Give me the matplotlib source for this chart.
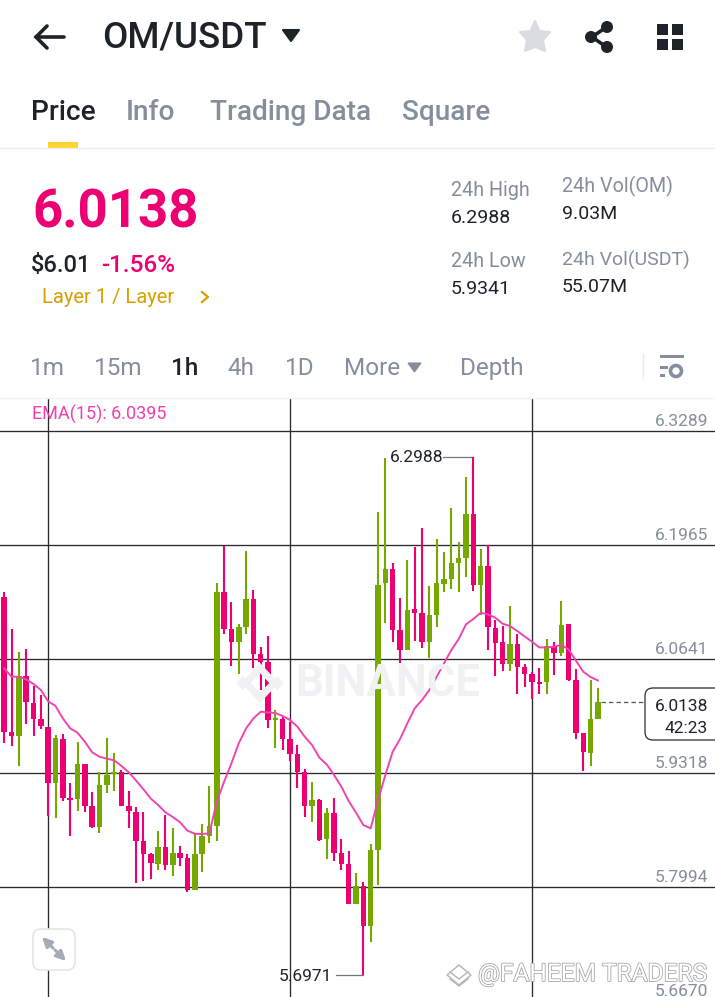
import matplotlib
matplotlib.use("Agg")
import matplotlib.pyplot as plt
import matplotlib.patheffects as pe
from matplotlib.patches import Rectangle, Polygon, FancyBboxPatch, Circle

opens = [6.1365,5.9790,5.9751,6.0444,6.0127,5.9945,5.9848,5.9198,5.9712,5.9027,
         5.9020,5.9422,5.8931,5.8687,5.9178,5.9302,5.9329,5.8938,5.8869,5.8528,
         5.8377,5.8261,5.8462,5.8253,5.8385,5.8334,5.7955,5.8381,5.8586,5.8706,
         6.1415,6.0989,6.0842,6.1016,6.1338,6.0699,6.0602,5.9929,5.9948,5.9716,
         5.9534,5.9329,5.8938,5.9000,5.8547,5.8849,5.8392,5.8261,5.7796,5.8005,
         5.7544,5.8427,6.1520,6.1686,6.0978,6.0745,6.1218,6.1171,6.0838,6.1152,
         6.1516,6.1570,6.1760,6.1814,6.2321,6.1500,6.1721,6.1005,6.0838,6.0587,
         6.0819,6.0552,6.0471,6.0370,6.0374,6.0796,6.0714,6.1044,6.0397,5.9778,
         5.9553,5.9940]
closes = [5.9798,5.9751,6.0444,6.0138,5.9945,5.9863,5.9198,5.9720,5.9027,5.9004,
          5.9422,5.8938,5.8687,5.9178,5.9294,5.9329,5.8938,5.8876,5.8532,5.8377,
          5.8269,5.8462,5.8253,5.8385,5.8334,5.7959,5.8377,5.8586,5.8702,6.1416,
          6.0989,6.0842,6.1009,6.1338,6.0699,6.0602,5.9933,5.9952,5.9712,5.9538,
          5.9333,5.8938,5.9000,5.8543,5.8849,5.8392,5.8261,5.7796,5.8005,5.7544,
          5.8427,6.1500,6.1686,6.0978,6.0745,6.1214,6.1179,6.0838,6.1152,6.1520,
          6.1566,6.1756,6.1818,6.2329,6.1500,6.1721,6.1013,6.0831,6.0587,6.0819,
          6.0552,6.0471,6.0374,6.0347,6.0796,6.0711,6.1036,6.0397,5.9786,5.9557,
          5.9940,6.0138]
highs = [6.1423,6.0990,6.0727,6.0754,6.0328,6.0223,5.9848,5.9759,5.9767,5.9205,
         5.9681,5.9422,5.9101,5.9325,5.9720,5.9546,5.9352,5.9109,5.8919,5.8865,
         5.8393,5.8640,5.8826,5.8675,5.8470,5.8373,5.8617,5.8722,5.9167,6.1528,
         6.1957,6.1299,6.1044,6.1895,6.1442,6.0784,6.0912,6.0045,5.9964,5.9906,
         5.9646,5.9364,5.9209,5.9012,5.8915,5.9027,5.8547,5.8408,5.8152,5.8048,
         5.8489,6.2344,6.2979,6.1760,6.1345,6.1794,6.1945,6.2166,6.1493,6.2031,
         6.1883,6.2398,6.1996,6.2754,6.2988,6.1914,6.1969,6.1094,6.1024,6.1260,
         6.0931,6.0583,6.0486,6.0533,6.0877,6.0838,6.1318,6.1044,6.0525,5.9786,
         6.0393,6.0304]
lows = [5.9662,5.9635,5.9399,5.9883,5.9751,5.9832,5.8822,5.8799,5.8996,5.8590,
        5.8880,5.8869,5.8683,5.8625,5.9082,5.9105,5.8934,5.8683,5.8044,5.8067,
        5.8091,5.8195,5.8195,5.8125,5.8242,5.7940,5.7955,5.8168,5.8505,5.8532,
        6.0927,6.0560,6.0467,6.0935,6.0537,6.0285,5.9844,5.9611,5.9588,5.9460,
        5.9147,5.8810,5.8752,5.8528,5.8315,5.8299,5.8195,5.7792,5.7796,5.6971,
        5.7359,5.8013,6.1055,6.0842,6.0598,6.0745,6.0854,6.0773,6.0653,6.1016,
        6.1423,6.1454,6.1423,6.1597,6.1434,6.1152,6.0749,6.0444,6.0505,6.0505,
        6.0231,6.0312,6.0180,6.0231,6.0238,6.0459,6.0680,6.0389,5.9708,5.9337,
        5.9402,5.9940]
ema15 = [6.0533,6.0436,6.0436,6.0405,6.0351,6.0281,6.0150,6.0096,5.9952,5.9836,
         5.9786,5.9681,5.9558,5.9507,5.9484,5.9465,5.9399,5.9325,5.9229,5.9128,
         5.9020,5.8946,5.8861,5.8807,5.8745,5.8648,5.8613,5.8609,5.8617,5.8985,
         5.9217,5.9430,5.9662,5.9836,5.9952,6.0029,6.0022,6.0014,5.9979,5.9933,
         5.9855,5.9739,5.9642,5.9495,5.9418,5.9294,5.9159,5.8992,5.8857,5.8713,
         5.8675,5.9004,5.9294,5.9565,5.9712,5.9894,6.0068,6.0165,6.0281,6.0436,
         6.0591,6.0745,6.0873,6.1044,6.1105,6.1179,6.1160,6.1121,6.1051,6.1024,
         6.0966,6.0904,6.0842,6.0776,6.0776,6.0784,6.0804,6.0753,6.0622,6.0494,
         6.0432,6.0393]
price_ticks = [6.3289, 6.1965, 6.0641, 5.9318, 5.7994, 5.6670]
time_grid = [6, 39, 72]
high_value = 6.2988
low_value = 5.6971
last_value = 6.0138
high_index = 64
low_index = 49
tabs = ["Price", "Info", "Trading Data", "Square"]
intervals = ["1m", "15m", "1h", "4h", "1D", "More", "Depth"]

PINK, GREEN = "#ec0072", "#76a900"
DARK, GREY = "#1e2329", "#848e9c"
W, H = 715, 997
FONT = ["Roboto", "DejaVu Sans"]
X0 = 4.2  # pixel position of candle 0
STEP = 7.33
fig = plt.figure(figsize=(W / 100, H / 100), dpi=100, facecolor="white")

# chart panel: y pixel 398..997
ax = fig.add_axes([0, 0, 1, (H - 398) / H])
ax.set_xlim(-X0 / STEP, (W - X0) / STEP)
ax.set_ylim(6.3289 - 566 * 0.0011612, 6.3289 + 33 * 0.0011612)
ax.axis("off")
for p in price_ticks:
    ax.axhline(p, color="#2a2a2a", lw=0.95, zorder=1)
for t in time_grid:
    ax.axvline(t, color="#2a2a2a", lw=0.95, zorder=1)
idx = list(range(len(opens)))
cols = [GREEN if c >= o else PINK for o, c in zip(opens, closes)]
ax.vlines(idx, lows, highs, colors=cols, lw=1.5, zorder=3)
ax.bar(idx, [abs(c - o) for o, c in zip(opens, closes)],
       bottom=[min(o, c) for o, c in zip(opens, closes)],
       width=0.75, color=cols, zorder=3, linewidth=0)
ax.plot(idx, ema15, color="#ee45b2", lw=1.4, zorder=4)

# overlay in pixel coordinates
ui = fig.add_axes([0, 0, 1, 1], facecolor="none")
ui.set_xlim(0, W)
ui.set_ylim(H, 0)
ui.axis("off")


def T(x, y, s, size, color=DARK, weight="normal", ha="left", **kw):
    return ui.text(x, y + 1.5, s, fontsize=size, color=color, fontweight=weight, ha=ha,
                   va="center", family=FONT, **kw)


# watermark
WM = "#f0f1f3"
T(295, 682, "BINANCE", 31.5, color=WM, weight="bold", zorder=2)
ui.add_patch(Polygon([(260, 668), (274, 683), (260, 698), (246, 683)], closed=True, fc="none", ec=WM, lw=5, zorder=2))
ui.add_patch(Polygon([(236, 683), (243, 676), (250, 683), (243, 690)], closed=True, fc=WM, ec="none", zorder=2))
ui.add_patch(Polygon([(270, 683), (277, 676), (284, 683), (277, 690)], closed=True, fc=WM, ec="none", zorder=2))

# header
ui.plot([36, 64], [37, 37], color=DARK, lw=2.6, solid_capstyle="round")
ui.plot([47, 36, 47], [26, 37, 48], color=DARK, lw=2.6, solid_capstyle="round", solid_joinstyle="miter")
T(102, 37, "OM/USDT", 26.5, weight="medium")
ui.add_patch(Polygon([(283, 30), (299, 30), (291, 41)], closed=True, fc=DARK, ec=DARK, lw=1.5, joinstyle="round"))
star = [(535, 21), (539.5, 31), (550, 32), (543, 40), (545, 51), (535, 47), (525, 51), (527, 40), (520, 32), (530.5, 31)]
ui.add_patch(Polygon(star, closed=True, fc="#d9dce0", ec="#d9dce0", lw=1.5, joinstyle="round"))
ui.plot([605, 592, 605], [28, 37, 46], color=DARK, lw=2.6)
for cx, cy, r in [(607, 27, 6), (591, 37, 6), (607, 47, 6)]:
    ui.add_patch(Circle((cx, cy), r, fc=DARK, ec="none"))
for x0, y0 in [(657, 24), (672, 24), (657, 39), (672, 39)]:
    ui.add_patch(Rectangle((x0, y0), 11, 11, fc=DARK, ec="none"))

# tabs
for s, x, c in zip(tabs, [31, 126, 210, 402], [DARK, GREY, GREY, GREY]):
    T(x, 111, s, 20.2, color=c, weight="medium")
ui.add_patch(Rectangle((48, 142), 30, 6, fc="#fcd535", ec="none"))
ui.plot([0, W], [148.5, 148.5], color="#eaecef", lw=0.8)

# price block
T(32, 211, "6.0138", 38, color=PINK, weight="bold")
T(31, 264, "$6.01", 17, weight="medium")
T(101, 264, "-1.56%", 17.5, color=PINK, weight="medium")
T(42, 295.5, "Layer 1 / Layer", 14.5, color="#d89f00")
ui.plot([202, 208, 202], [292, 297, 302], color="#d89f00", lw=1.6)
T(451, 188.5, "24h High", 14.2, color=GREY)
T(451, 216.5, "6.2988", 14)
T(562, 184.5, "24h Vol(OM)", 14.2, color=GREY)
T(562, 212.5, "9.03M", 14)
T(451, 259.5, "24h Low", 14.2, color=GREY)
T(451, 287.5, "5.9341", 14)
T(562, 258.5, "24h Vol(USDT)", 14, color=GREY)
T(562, 285.5, "55.07M", 14)

# interval row
for s, x in zip(intervals, [30, 94, 171, 227, 285, 344, 460]):
    T(x, 367, s, 17.5, color=DARK if s == "1h" else GREY, weight="medium" if s == "1h" else "normal")
ui.add_patch(Polygon([(408, 363), (421, 363), (414.5, 372)], closed=True, fc=GREY, ec=GREY, lw=0.8))
ui.plot([643, 643], [354, 378], color="#eaecef", lw=1)
ui.add_patch(Rectangle((660, 355), 24, 3, fc=GREY, ec="none"))
ui.add_patch(Rectangle((660, 366), 8, 3, fc=GREY, ec="none"))
ui.add_patch(Rectangle((660, 374), 5, 3, fc=GREY, ec="none"))
ui.add_patch(Circle((676, 371), 5.5, fc="none", ec=GREY, lw=2.6))
ui.plot([0, W], [397.5, 397.5], color="#f2f3f5", lw=1)

# chart annotations
T(32, 412.5, "EMA(15): 6.0395", 13, color="#f040b0")
for p in price_ticks:
    y = 431 + (6.3289 - p) / 0.0011612
    T(708, y - 11, f"{p:.4f}", 12.5, color=GREY, ha="right")
T(389.5, 456, f"{high_value:.4f}", 12.5, color=DARK)
T(279, 975, f"{low_value:.4f}", 12.5, color=DARK, zorder=5)
ax.plot([(443 - X0) / STEP, high_index], [high_value, high_value], color="#777777", lw=0.9, zorder=2)
ax.plot([(336 - X0) / STEP, low_index], [low_value, low_value], color="#777777", lw=0.9, zorder=2)
ax.plot([81.4, (645 - X0) / STEP], [last_value, last_value], color="#555555", lw=0.9, ls=(0, (3.5, 2.5)), zorder=2)
ui.add_patch(FancyBboxPatch((645, 688), 90, 52, boxstyle="round,pad=0,rounding_size=8",
                            fc="white", ec="#2a2a2a", lw=0.9, zorder=5))
T(708, 705, f"{last_value:.4f}", 12.5, ha="right", zorder=6)
T(708, 727, "42:23", 12.5, ha="right", zorder=6)

# expand button
ui.add_patch(FancyBboxPatch((33, 929), 42, 41, boxstyle="round,pad=0,rounding_size=8",
                            fc="white", ec="#e4e6ea", lw=1.2, zorder=5))
for (a, b, c, d) in [(42, 937, 53, 948), (66, 961, 55, 950)]:
    ui.annotate("", xy=(a, b), xytext=(c, d), zorder=6,
                arrowprops=dict(arrowstyle="-|>", color="#a5abb5", lw=2.2, mutation_scale=14, shrinkA=0, shrinkB=0))

# footer watermark
T(478, 973, "@FAHEEM TRADERS", 17.6, color="white", zorder=7,
  path_effects=[pe.withStroke(linewidth=1.2, foreground="#a8a8a8")])
ui.add_patch(Polygon([(459, 965), (471, 975), (459, 985), (447, 975)], closed=True, fc="white", ec="#b5b5b5", lw=1, zorder=7))
for dy in (0, 7):
    ui.plot([450, 459, 468], [972 + dy, 979 + dy, 972 + dy], color="#b5b5b5", lw=1, zorder=7)

fig.savefig("out.png", dpi=100, facecolor="white")
